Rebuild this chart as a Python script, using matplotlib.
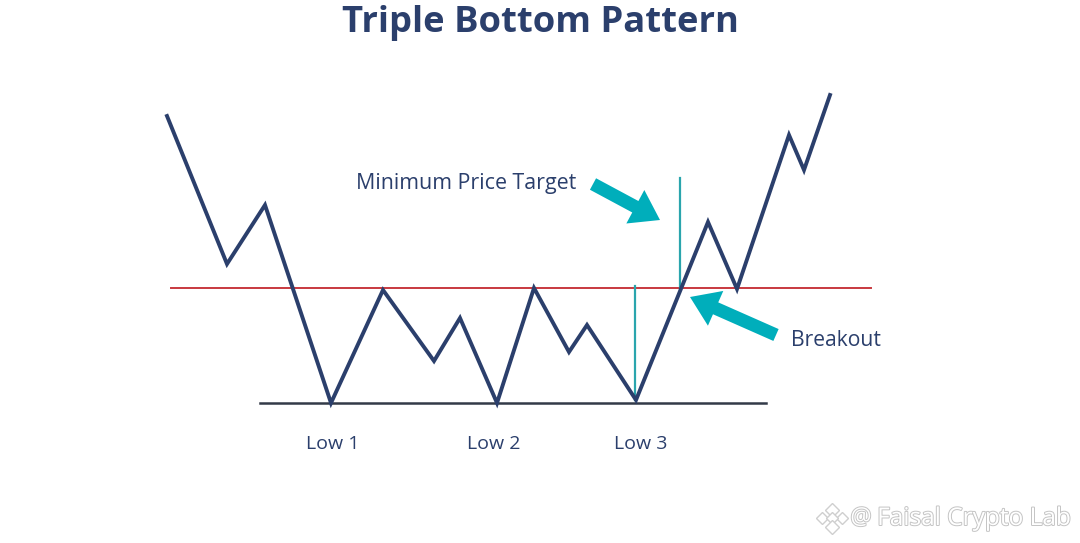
import matplotlib
matplotlib.use("Agg")
import matplotlib.pyplot as plt
from matplotlib.patches import FancyArrow
import matplotlib.patheffects as pe

# Price path, in pixel coordinates of the 1080x543 image
price_x = [167, 227, 265, 331, 383, 434, 460, 497, 534, 569, 587, 636, 708, 737, 789, 804, 830]
price_y = [116, 264, 205, 403, 290, 361, 318, 403, 288, 352, 325, 400, 222, 289, 135, 170, 95]

resistance_x = [171, 871]
resistance_y = [288, 288]
support_x = [260, 766]
support_y = [403, 403]

# Measured move lines
target_x = [[635, 635], [680, 680]]
target_y = [[286, 400], [178, 288]]

low_labels = ["Low 1", "Low 2", "Low 3"]
low_x = [333, 494, 641]
low_y = [444, 444, 444]

# Binance style icon of the watermark
icon_x = [832, 822, 842, 832, 832]
icon_y = [510, 518, 518, 518, 527]
icon_size = [7, 6, 6, 6, 7]

navy = "#2b3f6c"
teal = "#00aebb"

plt.rcParams["font.family"] = ["Open Sans", "DejaVu Sans"]

fig = plt.figure(figsize=(10.8, 5.43), dpi=100)
ax = fig.add_axes([0, 0, 1, 1])
ax.set_xlim(0, 1080)
ax.set_ylim(543, 0)
ax.axis("off")

ax.plot(resistance_x, resistance_y, color="#c8393f", lw=1.4, zorder=2)
ax.plot(support_x, support_y, color="#333a48", lw=1.8, zorder=2)
for xs, ys in zip(target_x, target_y):
    ax.plot(xs, ys, color="#2aa5ad", lw=1.6, zorder=2)
ax.plot(price_x, price_y, color=navy, lw=2.8, solid_joinstyle="miter", zorder=3)

# Teal arrows
ax.add_patch(FancyArrow(593, 184, 67, 36, width=13, head_width=38, head_length=28,
                        length_includes_head=True, color=teal, lw=0, zorder=4))
ax.add_patch(FancyArrow(776, 335, -86, -38, width=13, head_width=38, head_length=28,
                        length_includes_head=True, color=teal, lw=0, zorder=4))

# Text
ax.text(540, 23, "Triple Bottom Pattern", color=navy, fontsize=26.2, fontweight="bold",
        ha="center", va="center")
ax.text(466, 184, "Minimum Price Target", color=navy, fontsize=15.4, ha="center", va="center")
ax.text(836, 341, "Breakout", color=navy, fontsize=15.2, ha="center", va="center")
for label, x, y in zip(low_labels, low_x, low_y):
    ax.text(x, y, label, color=navy, fontsize=14, ha="center", va="center")

# Watermark
halo = [pe.withStroke(linewidth=1.4, foreground="#c4c4c4")]
ax.text(861, 518, "@", color="white", fontsize=17, ha="center", va="center", path_effects=halo)
ax.text(974, 519, "Faisal Crypto Lab", color="white", fontsize=17.6, ha="center", va="center",
        path_effects=halo)
for x, y, s in zip(icon_x, icon_y, icon_size):
    ax.plot([x], [y], marker="D", ms=s, mfc="white", mec="#cfcfcf", mew=1.0, zorder=5)

fig.savefig("out.png", dpi=100, facecolor="white")
